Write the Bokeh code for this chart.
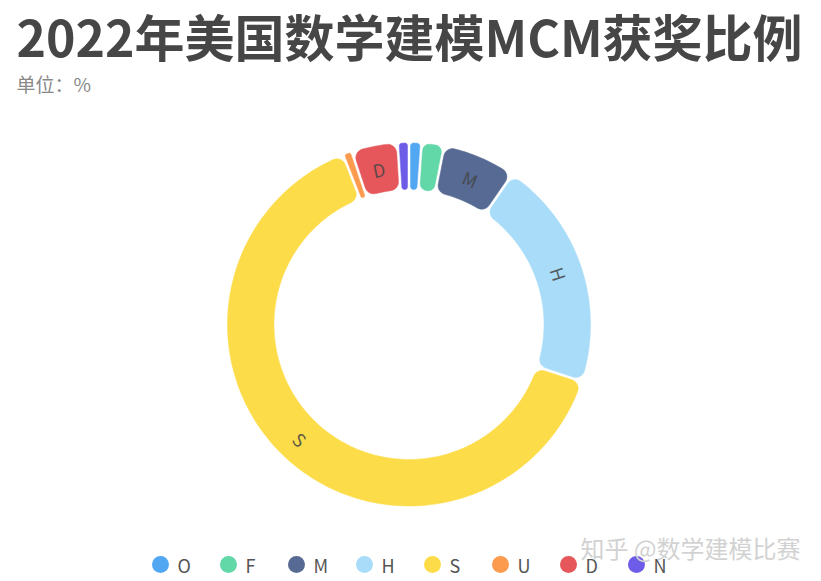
import numpy as np
from bokeh.plotting import figure
from bokeh.models import ColumnDataSource, Range1d, Label
from bokeh.core.properties import value
from bokeh.embed import file_html
from bokeh.resources import INLINE

# ---- data ----
categories = ["O", "F", "M", "H", "S", "U", "D", "N"]
percents = [1.1, 2.0, 6.5, 20.5, 64.1, 0.8, 4.1, 1.0]
colors = ["#52a7f2", "#62d7a8", "#566a94", "#a9dcf8", "#fddc4a", "#fc9a4d", "#e5575a", "#6c5ce7"]
title_text = "2022年美国数学建模MCM获奖比例"
subtitle_text = "单位：%"
watermark_text = "知乎 @数学建模比赛"

FONT = "Noto Sans CJK SC"
W, H = 821, 581
cx, cy = 408.5, 257.0
r_out, r_in = 181.5, 135.0
gap = 3.0
cr_max = 9.0
r_mid = (r_out + r_in) / 2


def arc_pts(c, p1, p2, n=8):
    a1 = np.arctan2(p1[1] - c[1], p1[0] - c[0])
    a2 = np.arctan2(p2[1] - c[1], p2[0] - c[0])
    d = (a2 - a1 + np.pi) % (2 * np.pi) - np.pi
    r = np.hypot(p1[0] - c[0], p1[1] - c[1])
    t = a1 + d * np.linspace(0, 1, n)
    return list(zip(c[0] + r * np.cos(t), c[1] + r * np.sin(t)))


def rounded_sector(a0, a1, r0, r1, h, cr):
    """math-angle sector a0<a1 (radians) with parallel gaps h and corner radius cr"""
    u0 = np.array([np.cos(a0), np.sin(a0)]); n0 = np.array([-np.sin(a0), np.cos(a0)])
    u1 = np.array([np.cos(a1), np.sin(a1)]); n1 = np.array([np.sin(a1), -np.cos(a1)])

    def corner(u, nrm, R, outer):
        rc = R - cr if outer else R + cr
        t = np.sqrt(max(rc ** 2 - (h + cr) ** 2, 0.0))
        c = t * u + (h + cr) * nrm
        on_line = c - cr * nrm
        on_circ = c * R / np.linalg.norm(c)
        return c, on_line, on_circ

    c_si, l_si, k_si = corner(u0, n0, r0, False)
    c_so, l_so, k_so = corner(u0, n0, r1, True)
    c_eo, l_eo, k_eo = corner(u1, n1, r1, True)
    c_ei, l_ei, k_ei = corner(u1, n1, r0, False)
    span = a1 - a0
    pts = []
    pts += arc_pts(c_si, k_si, l_si)
    pts += arc_pts(c_so, l_so, k_so)
    f0 = np.arctan2(k_so[1], k_so[0]); f1 = np.arctan2(k_eo[1], k_eo[0])
    d = (f1 - f0) % (2 * np.pi)
    if d <= span + 0.01:
        m = max(int(d * r1 / 3), 2)
        tt = np.linspace(f0, f0 + d, m)
        pts += list(zip(r1 * np.cos(tt), r1 * np.sin(tt)))
    pts += arc_pts(c_eo, k_eo, l_eo)
    pts += arc_pts(c_ei, l_ei, k_ei)
    g0 = np.arctan2(k_ei[1], k_ei[0]); g1 = np.arctan2(k_si[1], k_si[0])
    d = (g0 - g1) % (2 * np.pi)
    if d <= span + 0.01:
        m = max(int(d * r0 / 3), 2)
        tt = np.linspace(g0, g0 - d, m)
        pts += list(zip(r0 * np.cos(tt), r0 * np.sin(tt)))
    xs = [cx + p[0] for p in pts]
    ys = [cy + p[1] for p in pts]
    return xs, ys


p = figure(width=W, height=H, x_range=Range1d(0, W), y_range=Range1d(0, H),
           output_backend="svg", toolbar_location=None,
           x_axis_location=None, y_axis_location=None, min_border=0)
p.grid.visible = False
p.outline_line_color = None
p.background_fill_color = "white"
p.border_fill_color = "white"

vals = np.array(percents, dtype=float)
ang = vals / vals.sum() * 360.0          # compass degrees, clockwise from top
ends = np.cumsum(ang)
starts = ends - ang
mid = (starts + ends) / 2

XS, YS = [], []
for s, e in zip(starts, ends):
    a0 = np.radians(90 - e)
    a1 = np.radians(90 - s)
    w_in = r_in * (a1 - a0) - gap
    cr = float(np.clip(w_in / 2 * 0.98, 0.5, cr_max))
    xs, ys = rounded_sector(a0, a1, r_in, r_out, gap / 2, cr)
    XS.append(xs); YS.append(ys)

src = ColumnDataSource(dict(xs=XS, ys=YS, color=colors, cat=categories))
p.patches(xs="xs", ys="ys", fill_color="color", line_color="color", line_width=0.5,
          source=src)

# slice labels (tangential)
lab_idx = [i for i in range(len(categories)) if ang[i] > 10]
lx, ly, lt, la = [], [], [], []
for i in lab_idx:
    c = mid[i]
    th = np.radians(90 - c)
    lx.append(cx + r_mid * np.cos(th))
    ly.append(cy + r_mid * np.sin(th))
    rot = c
    if 90 < c < 270:
        rot = c - 180
    elif c >= 270:
        rot = c - 360
    la.append(np.radians(-rot))
    lt.append(categories[i])
p.text(x=lx, y=ly, text=lt, angle=la, text_align="center", text_baseline="middle",
       text_font=value(FONT), text_font_size="18px", text_color="#444444", text_alpha=0.85)

# legend
n = len(categories)
leg_x0, leg_dx, leg_y = 160, 68, 17
mx = [leg_x0 + i * leg_dx for i in range(n)]
p.scatter(x=mx, y=[leg_y] * n, size=17, marker="circle", fill_color=colors, line_color=None)
p.text(x=[m + 17 for m in mx], y=[leg_y] * n, text=categories, text_align="left",
       text_baseline="middle", text_font=value(FONT), text_font_size="18px", text_color="#555555")

p.add_layout(Label(x=16, y=547, x_units="screen", y_units="screen", text=title_text,
                   text_font=FONT, text_font_size="50px", text_font_style="bold",
                   text_color="#464646", text_baseline="alphabetic", text_align="left"))
p.add_layout(Label(x=16, y=498, x_units="screen", y_units="screen", text=subtitle_text,
                   text_font=FONT, text_font_size="19px", text_color="#888888",
                   text_baseline="middle", text_align="left"))
p.add_layout(Label(x=800, y=34, x_units="screen", y_units="screen", text=watermark_text,
                   text_font=FONT, text_font_size="24px", text_color="#d2d2d2",
                   text_baseline="middle", text_align="right"))

open("out.html", "w").write(file_html(p, INLINE))
